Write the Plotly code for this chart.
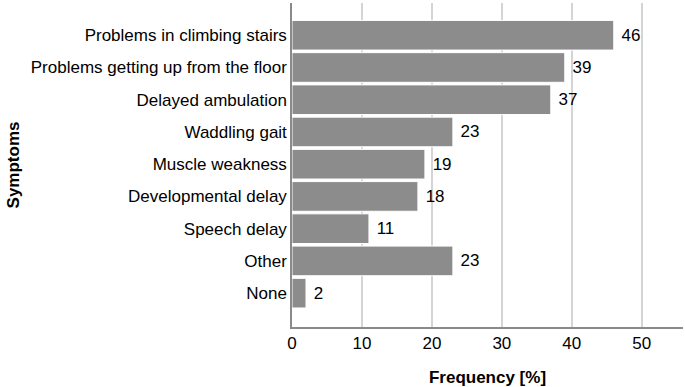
import plotly.graph_objects as go

symptoms = ["Problems in climbing stairs", "Problems getting up from the floor",
            "Delayed ambulation", "Waddling gait", "Muscle weakness",
            "Developmental delay", "Speech delay", "Other", "None"]
frequency = [46, 39, 37, 23, 19, 18, 11, 23, 2]

cats = symptoms[::-1]
vals = frequency[::-1]

fig = go.Figure(go.Bar(
    y=cats, x=vals, orientation="h",
    marker=dict(color="#8c8c8c", line=dict(color="white", width=1)),
    text=[" " + str(v) for v in vals], textposition="outside",
    textfont=dict(size=17, color="black", family="Liberation Sans"),
    cliponaxis=False,
))

fig.update_layout(
    width=685, height=387,
    margin=dict(l=292, r=2, t=3, b=60),
    paper_bgcolor="white", plot_bgcolor="white",
    bargap=0.08,
    showlegend=False,
    font=dict(family="Liberation Sans", size=17, color="black"),
)
fig.update_xaxes(
    range=[0, 55.9], tickvals=[0, 10, 20, 30, 40, 50],
    showgrid=True, gridcolor="#d4d4d4", gridwidth=1.5,
    showline=True, linecolor="#8a8a8a", linewidth=1.5,
    zeroline=False, ticks="", tickfont=dict(size=17),
    title=dict(text="<b>Frequency [%]</b>", font=dict(size=17), standoff=19),
)
fig.update_yaxes(
    categoryorder="array", categoryarray=cats,
    range=[-1.05, 9.0],
    showgrid=False, showline=True, linecolor="#8a8a8a", linewidth=1.5,
    ticks="", tickfont=dict(size=17), ticklabelstandoff=0,
    title=dict(text="<b>Symptoms</b>", font=dict(size=17), standoff=7),
)

fig.write_html("out.html")
